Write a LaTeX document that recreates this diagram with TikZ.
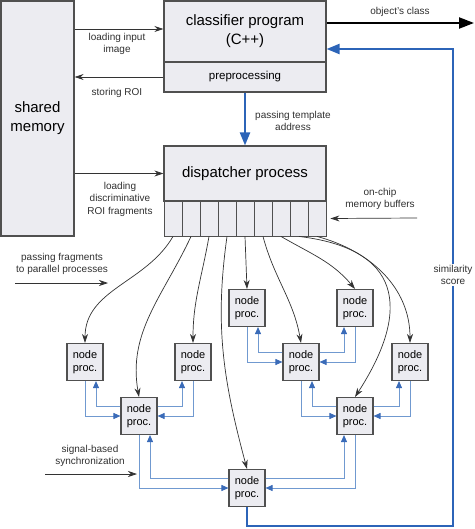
\documentclass[tikz,border=0pt]{standalone}
\usepackage{fontspec}
\setmainfont{Liberation Sans}
\usetikzlibrary{arrows.meta}
\definecolor{boxfill}{HTML}{ECECF1}
\definecolor{boxline}{HTML}{505050}
\definecolor{linkblue}{HTML}{7099D0}
\definecolor{tipblue}{HTML}{3A6BB8}
\definecolor{retblue}{HTML}{2C64B8}
\definecolor{labelgray}{HTML}{303030}

\begin{document}
\begin{tikzpicture}[x=1pt,y=-1pt,
    box/.style={draw=boxline,fill=boxfill,line width=1.1pt,inner sep=0pt,align=center},
    bigbox/.style={box,minimum width=162pt,font=\fontsize{15}{19}\selectfont},
    proc/.style={box,minimum width=36pt,minimum height=37pt,font=\fontsize{11}{13}\selectfont},
    cell/.style={draw=boxline,fill=boxfill,line width=0.9pt,minimum width=18pt,minimum height=35pt,inner sep=0pt},
    lbl/.style={text=labelgray,align=center,font=\fontsize{10}{12.5}\selectfont},
    feed/.style={draw=black!80,line width=0.7pt,-{Stealth[length=9pt,width=6pt]}},
    side/.style={draw=black!80,line width=0.7pt,-{Stealth[length=9pt,width=6pt]}},
    link/.style={draw=linkblue,line width=0.9pt,-{Triangle[length=7pt,width=6pt,color=tipblue]}},
    thickblue/.style={draw=retblue,line width=2.2pt,-{Triangle[length=13pt,width=10pt]}},
    thickblack/.style={draw=black,line width=2.2pt,-{Triangle[length=15pt,width=11pt]}}]

    \useasboundingbox (0,0) rectangle (474,529);

    \node[box,minimum width=73pt,minimum height=235pt,font=\fontsize{15}{19}\selectfont]
        (mem) at (37.5,118.5) {shared\\memory};
    \node[bigbox,minimum height=61pt] (cls) at (245,31.5) {classifier program\\(C++)};
    \node[bigbox,minimum height=30pt,font=\fontsize{11.5}{14}\selectfont] (pre) at (245,77) {preprocessing};
    \node[bigbox,minimum height=55pt] (disp) at (245,173.5) {dispatcher process};
    \foreach \i in {1,...,9}
        \node[cell] (buf\i) at ({164+18*(\i-0.5)},218.5) {};

    \node[proc] (n0) at (247,488) {node\\proc.};
    \node[proc] (n1) at (139,416) {node\\proc.};
    \node[proc] (n2) at (355,416) {node\\proc.};
    \node[proc] (n3) at (85,362) {node\\proc.};
    \node[proc] (n4) at (193,362) {node\\proc.};
    \node[proc] (n5) at (301,362) {node\\proc.};
    \node[proc] (n6) at (410,362) {node\\proc.};
    \node[proc] (n7) at (247,308) {node\\proc.};
    \node[proc] (n8) at (355,308) {node\\proc.};

    \coordinate (cout) at (474,23);
    \coordinate (sc) at (453,526);
    \coordinate (chip) at (417,218);
    \coordinate (pf) at (15,283);
    \coordinate (pfe) at (108,283);
    \coordinate (sig) at (45,474);
    \coordinate (sige) at (137,474);

    \draw[side] ([yshift=2.5pt]cls.west -| mem.east) -- ([yshift=2.5pt]cls.west);
    \draw[side] (pre.west) -- (pre.west -| mem.east);
    \draw[side] (disp.west -| mem.east) -- (disp.west);
    \draw[side] (chip) -- ([xshift=4pt]buf9.east);
    \draw[side] (pf) -- (pfe);
    \draw[side] (sig) -- (sige);

    \draw[thickblack] ([yshift=8.5pt]cls.east) -- (cout);
    \draw[thickblue] (pre.south) -- (disp.north);
    \draw[thickblue] (n0.south) |- (sc) |- ([yshift=-17.5pt]cls.east);

    \draw[feed] (buf1.south) to[out=-120,in=90] (n3.north);
    \draw[feed] (buf2.south) to[out=-115,in=100] (n1.north);
    \draw[feed] (buf3.south) to[out=-100,in=90] (n4.north);
    \draw[feed] (buf4.south) to[out=-98,in=105] (n0.north);
    \draw[feed] (buf5.south) -- (n7.north);
    \draw[feed] (buf6.south) to[out=-75,in=100] (n5.north);
    \draw[feed] (buf7.south) to[out=-30,in=130] (n8.north);
    \draw[feed] (buf8.south) .. controls (412,250) and (405,320) .. (n2.north);
    \draw[feed] (buf9.south) to[out=-15,in=90] (n6.north);

    \foreach \c/\p in {n1/n0,n3/n1,n5/n2,n7/n5} {
        \draw[link] (\c.south) |- (\p.west);
        \draw[link] ([yshift=10pt]\p.west) -| ([xshift=11pt]\c.south);
    }
    \foreach \c/\p in {n2/n0,n4/n1,n6/n2,n8/n5} {
        \draw[link] (\c.south) |- (\p.east);
        \draw[link] ([yshift=10pt]\p.east) -| ([xshift=-11pt]\c.south);
    }

    \node[lbl] (l1) at (117,44) {loading input\\image};
    \node[lbl] (l2) at (117,93) {storing ROI};
    \node[lbl] (l3) at (120,199) {loading\\discriminative\\ROI fragments};
    \node[lbl] (l4) at (293,121) {passing template\\address};
    \node[lbl] (l5) at (400,12) {object's class};
    \node[lbl] (l6) at (380,199) {on-chip\\memory buffers};
    \node[lbl] (l7) at (62,264) {passing fragments\\to parallel processes};
    \node[lbl] (l8) at (90,456) {signal-based\\synchronization};
    \node[lbl,fill=white,inner sep=1pt] (l9) at (453,275) {similarity\\score};

\end{tikzpicture}
\end{document}
